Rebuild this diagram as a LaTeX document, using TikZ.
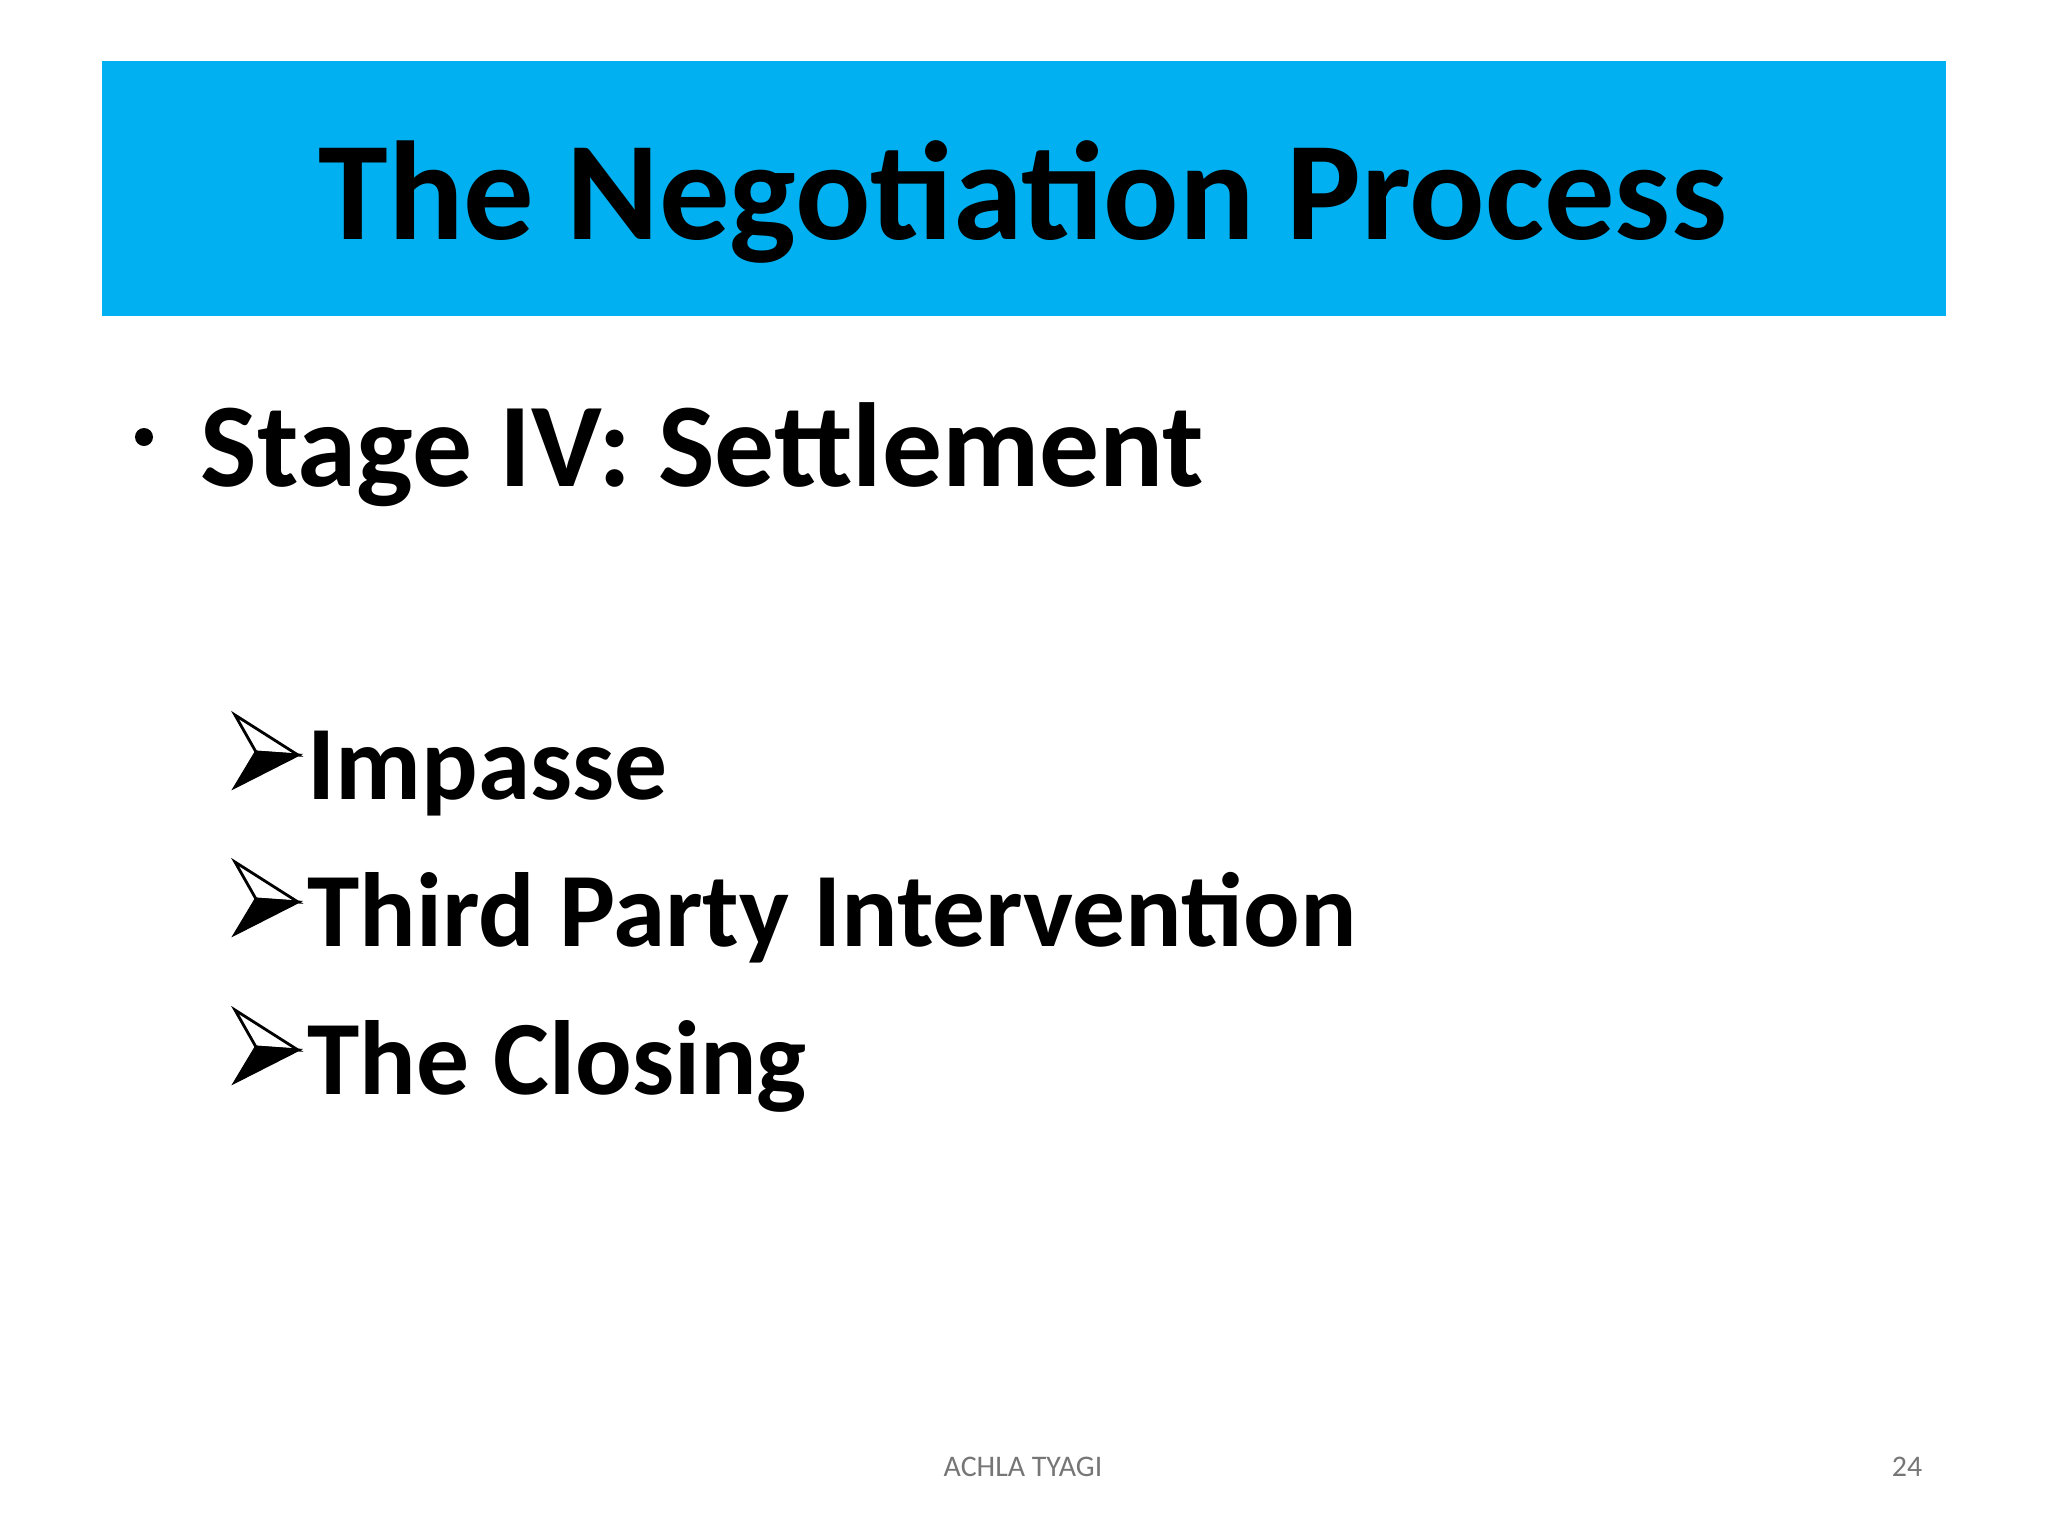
\documentclass[tikz,border=0pt]{standalone}
\usepackage{fontspec}
\setmainfont{Carlito}
\definecolor{barblue}{RGB}{0,176,240}
\definecolor{foot}{RGB}{118,118,118}
\tikzset{
  sub/.style={anchor=base west,inner sep=0pt,font=\fontsize{30}{36}\selectfont\bfseries},
  foottext/.style={anchor=base,inner sep=0pt,text=foot,font=\fontsize{8.5}{10}\selectfont}
}
\newcommand{\arrowbul}[1]{%
  \begin{scope}[shift={#1}]
    \draw[line width=0.8pt,fill=white] (235,-84) -- (298,-44) -- (256,-47) -- cycle;
    \draw[line width=0.8pt,fill=black] (256,-47) -- (298,-44) -- (235,-12) -- cycle;
  \end{scope}}
\begin{document}
\begin{tikzpicture}[x=0.01cm,y=-0.01cm]
\useasboundingbox (0,0) rectangle (2048,1536);
\fill[barblue] (102,61) rectangle (1946,316);
\node[inner sep=0pt,font=\fontsize{40}{48}\selectfont\bfseries] (title) at (1023,202) {The Negotiation Process};
\fill (144,437) circle (9);
\node[anchor=base west,inner sep=0pt,font=\fontsize{34}{40}\selectfont\bfseries] (stage) at (200,486) {Stage IV: Settlement};
\arrowbul{(0,799)}
\node[sub] (i1) at (307,799) {Impasse};
\arrowbul{(0,946)}
\node[sub] (i2) at (307,946) {Third Party Intervention};
\arrowbul{(0,1094)}
\node[sub] (i3) at (307,1094) {The Closing};
\node[foottext] (auth) at (1023,1476) {ACHLA TYAGI};
\node[foottext] (pg) at (1907,1476) {24};
\end{tikzpicture}
\end{document}
